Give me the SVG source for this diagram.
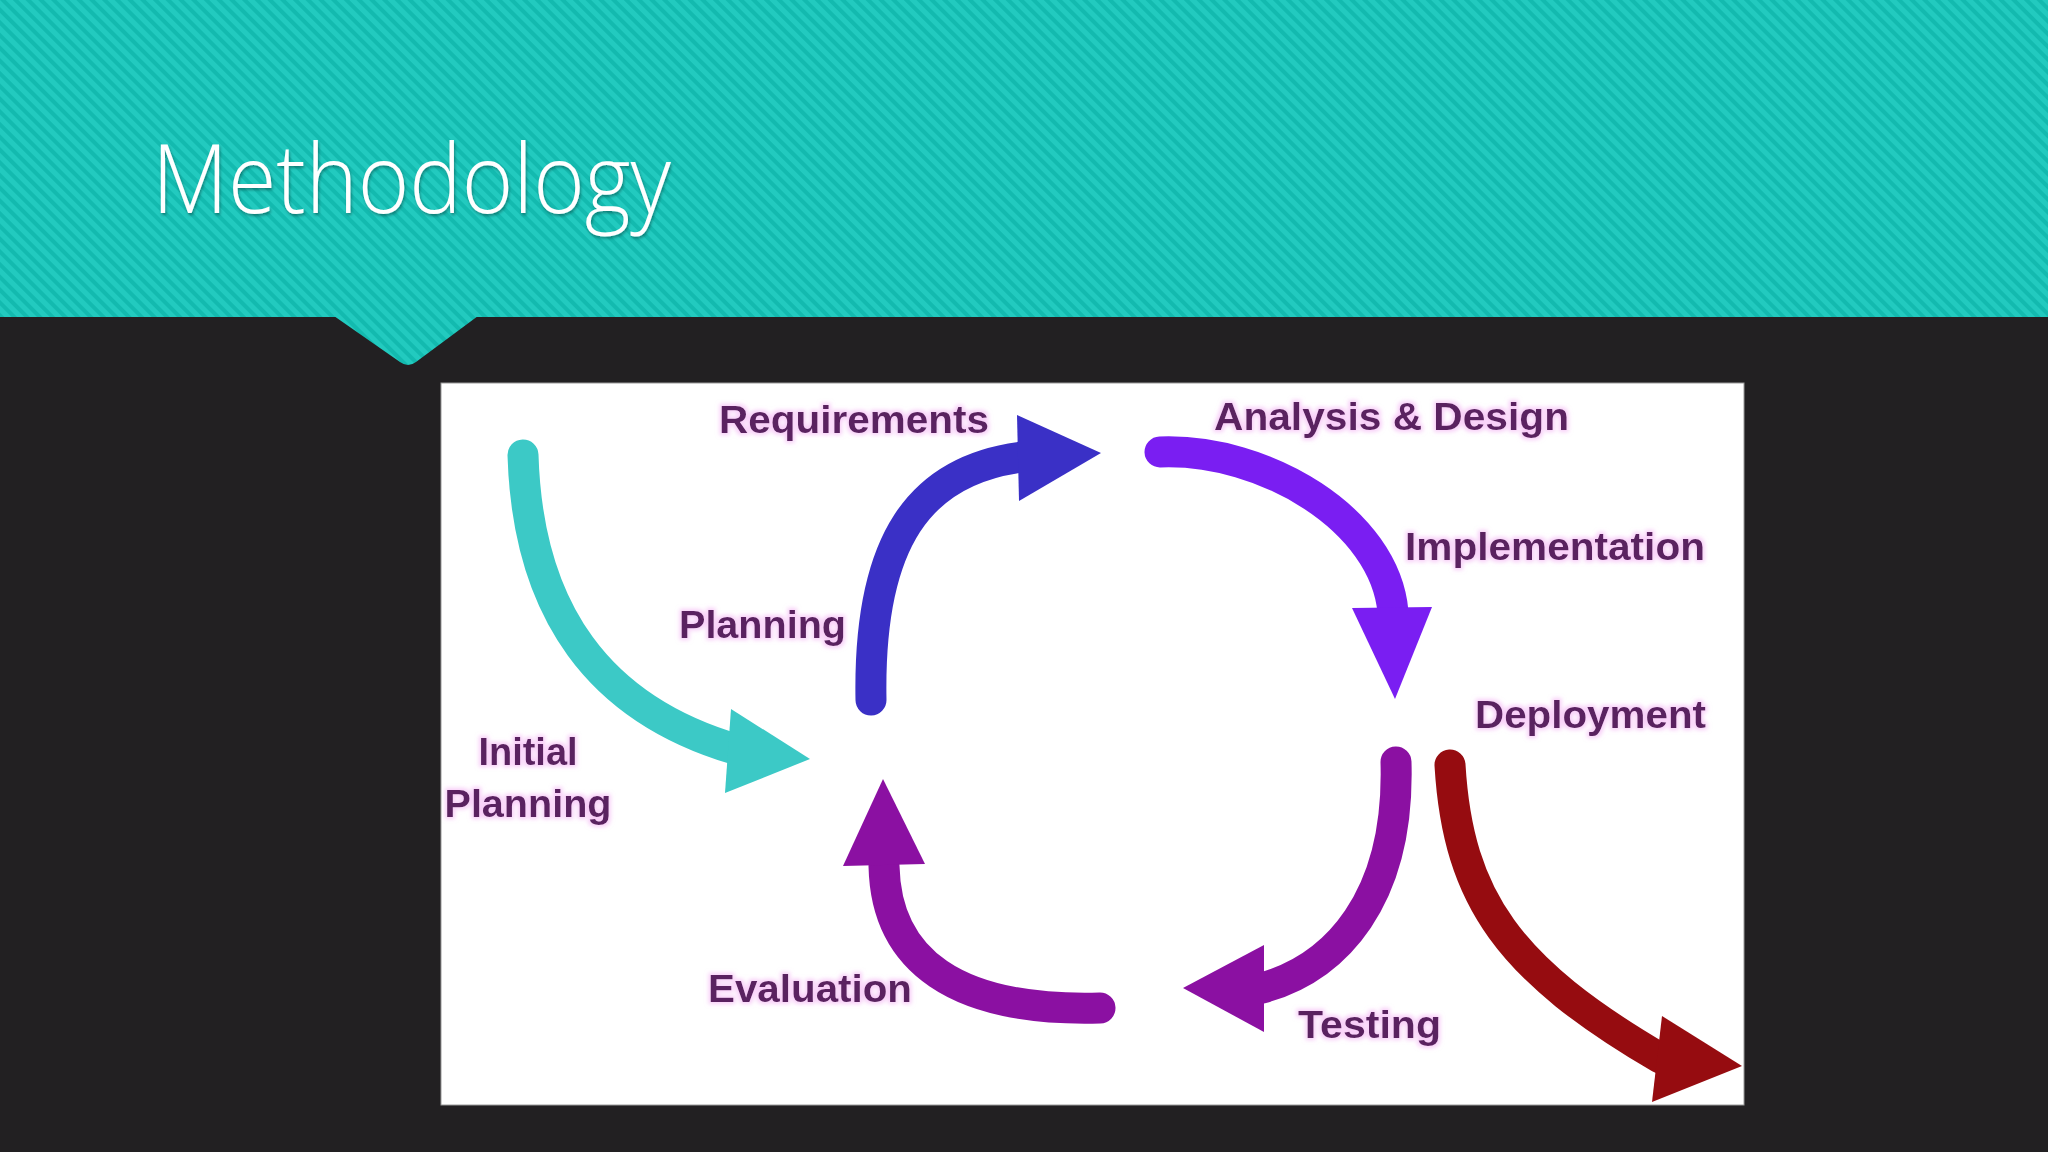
<svg xmlns="http://www.w3.org/2000/svg" width="2048" height="1152" viewBox="0 0 2048 1152">
  <defs>
    <pattern id="stripes" patternUnits="userSpaceOnUse" width="9" height="9" patternTransform="rotate(-45)">
      <rect width="9" height="9" fill="#22cabf"/>
      <rect width="4" height="9" fill="#13baaf"/>
    </pattern>
    <filter id="glow" x="-10%" y="-30%" width="120%" height="160%">
      <feMorphology in="SourceAlpha" operator="dilate" radius="2" result="d"/>
      <feGaussianBlur in="d" stdDeviation="2" result="b"/>
      <feFlood flood-color="#f2a6f2" flood-opacity="0.55"/>
      <feComposite in2="b" operator="in" result="g"/>
      <feMerge><feMergeNode in="g"/><feMergeNode in="SourceGraphic"/></feMerge>
    </filter>
    <filter id="shadow" x="-5%" y="-20%" width="110%" height="140%">
      <feDropShadow dx="1" dy="2" stdDeviation="1.5" flood-color="#000" flood-opacity="0.35"/>
    </filter>
  </defs>
  <style>
    .lbl { font-family: "Liberation Sans", Arial, sans-serif; font-weight: bold; font-size: 38px; fill: #5a2461; }
    .shaft { fill: none; stroke-width: 31; stroke-linecap: round; }
    .title { font-family: "Open Sans", "Segoe UI", sans-serif; font-weight: 300; font-size: 96px; fill: #ffffff; }
  </style>

  <!-- background -->
  <rect x="0" y="0" width="2048" height="1152" fill="#222022"/>
  <rect x="0" y="0" width="2048" height="317" fill="url(#stripes)"/>
  <path d="M334,316 L400,362 Q408,368 416,362 L478,316 Z" fill="url(#stripes)"/>
  <text class="title" x="152" y="213" textLength="519" lengthAdjust="spacingAndGlyphs" filter="url(#shadow)">Methodology</text>

  <!-- picture frame -->
  <rect x="441" y="383" width="1303" height="722" fill="#ffffff" stroke="#9a9a9a" stroke-width="1"/>

  <g id="connectors">
    <g id="arrow-initial">
      <path class="shaft" stroke="#3cc9c6" d="M523,455 Q530,690 738,750"/>
      <polygon fill="#3cc9c6" points="731,709 810,759 725,793"/>
    </g>
    <g id="arrow-planning">
      <path class="shaft" stroke="#3a30c6" d="M871,700 C868,540 920,470 1022,457"/>
      <polygon fill="#3a30c6" points="1017,415 1101,453 1019,501"/>
    </g>
    <g id="arrow-analysis">
      <path class="shaft" stroke="#7a1ef2" d="M1160,452 C1265,448 1385,520 1393,612"/>
      <polygon fill="#7a1ef2" points="1352,608 1432,607 1395,699"/>
    </g>
    <g id="arrow-testing">
      <path class="shaft" stroke="#8b10a2" d="M1396,762 C1400,900 1335,968 1262,988"/>
      <polygon fill="#8b10a2" points="1264,945 1183,988 1264,1032"/>
    </g>
    <g id="arrow-deployment">
      <path class="shaft" stroke="#960c10" stroke-width="29" d="M1450,765 C1458,900 1510,970 1660,1058"/>
      <polygon fill="#960c10" points="1662,1016 1742,1066 1652,1102"/>
    </g>
    <g id="arrow-evaluation">
      <path class="shaft" stroke="#8b10a2" d="M1100,1008 C955,1012 886,960 884,866"/>
      <polygon fill="#8b10a2" points="843,866 883,779 925,864"/>
    </g>
  </g>

  <g id="node-requirements" filter="url(#glow)">
    <text class="lbl" x="719" y="433" textLength="270" lengthAdjust="spacingAndGlyphs">Requirements</text>
  </g>
  <g id="node-planning" filter="url(#glow)">
    <text class="lbl" x="679" y="638" textLength="167" lengthAdjust="spacingAndGlyphs">Planning</text>
  </g>
  <g id="node-analysis" filter="url(#glow)">
    <text class="lbl" x="1214" y="430" textLength="355" lengthAdjust="spacingAndGlyphs">Analysis &amp; Design</text>
  </g>
  <g id="node-implementation" filter="url(#glow)">
    <text class="lbl" x="1405" y="560" textLength="300" lengthAdjust="spacingAndGlyphs">Implementation</text>
  </g>
  <g id="node-deployment" filter="url(#glow)">
    <text class="lbl" x="1475" y="728" textLength="231" lengthAdjust="spacingAndGlyphs">Deployment</text>
  </g>
  <g id="node-initial-planning" filter="url(#glow)">
    <text class="lbl" x="528" y="765" text-anchor="middle">Initial</text>
    <text class="lbl" x="528" y="817" text-anchor="middle" textLength="167" lengthAdjust="spacingAndGlyphs">Planning</text>
  </g>
  <g id="node-evaluation" filter="url(#glow)">
    <text class="lbl" x="708" y="1002" textLength="204" lengthAdjust="spacingAndGlyphs">Evaluation</text>
  </g>
  <g id="node-testing" filter="url(#glow)">
    <text class="lbl" x="1298" y="1038" textLength="143" lengthAdjust="spacingAndGlyphs">Testing</text>
  </g>
</svg>
